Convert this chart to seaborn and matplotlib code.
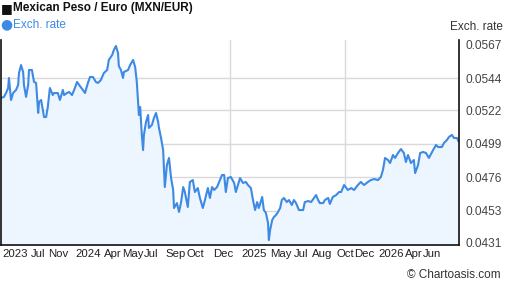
import matplotlib
matplotlib.use("Agg")
import matplotlib.pyplot as plt
import seaborn as sns
import pandas as pd

# days since start of the 3-year window, and MXN/EUR rate
days = [0, 7, 12, 17, 19, 24, 29, 36, 41, 43, 48, 53, 55, 60, 65, 67, 74, 79, 84, 89,
        91, 96, 103, 108, 112, 117, 124, 127, 136, 141, 148, 151, 158, 163, 170, 175, 182, 187, 196, 201,
        208, 213, 220, 227, 232, 239, 246, 254, 258, 266, 270, 275, 280, 282, 287, 292, 294, 304, 309, 316,
        321, 325, 328, 330, 333, 337, 340, 342, 347, 352, 354, 361, 366, 371, 376, 378, 383, 388, 390, 392,
        397, 402, 407, 412, 414, 421, 426, 431, 436, 440, 447, 452, 459, 464, 471, 476, 483, 488, 495, 500,
        505, 510, 517, 522, 529, 534, 538, 543, 550, 558, 562, 567, 572, 579, 586, 591, 598, 603, 608, 613,
        617, 625, 629, 634, 639, 641, 644, 649, 653, 658, 663, 668, 672, 677, 684, 689, 696, 701, 706, 713,
        723, 727, 735, 742, 749, 754, 759, 763, 771, 775, 783, 787, 794, 802, 809, 814, 821, 830, 838, 845,
        854, 861, 869, 878, 885, 893, 902, 909, 914, 919, 926, 931, 938, 943, 950, 957, 964, 969, 974, 981,
        988, 991, 998, 1003, 1010, 1017, 1024, 1034, 1041, 1046, 1055, 1060, 1067, 1072, 1079, 1084, 1091, 1096]
rate = [0.05306, 0.05313, 0.05340, 0.05374, 0.05443, 0.05292, 0.05340, 0.05361, 0.05395, 0.05477,
        0.05532, 0.05484, 0.05395, 0.05313, 0.05395, 0.05498, 0.05498, 0.05416, 0.05409, 0.05203,
        0.05278, 0.05292, 0.05175, 0.05175, 0.05244, 0.05374, 0.05326, 0.05340, 0.05340, 0.05292,
        0.05361, 0.05326, 0.05340, 0.05347, 0.05326, 0.05361, 0.05416, 0.05395, 0.05361, 0.05340,
        0.05409, 0.05450, 0.05450, 0.05416, 0.05409, 0.05429, 0.05477, 0.05498, 0.05567, 0.05601,
        0.05635, 0.05663, 0.05615, 0.05526, 0.05498, 0.05443, 0.05484, 0.05498, 0.05532, 0.05567,
        0.05519, 0.05416, 0.05278, 0.05189, 0.05244, 0.05052, 0.04948, 0.05052, 0.05141, 0.05189,
        0.05100, 0.05120, 0.05168, 0.05203, 0.05141, 0.05100, 0.05031, 0.04948, 0.04825, 0.04694,
        0.04845, 0.04894, 0.04756, 0.04674, 0.04550, 0.04584, 0.04523, 0.04591, 0.04694, 0.04660,
        0.04557, 0.04729, 0.04742, 0.04660, 0.04687, 0.04619, 0.04550, 0.04605, 0.04687, 0.04619,
        0.04694, 0.04674, 0.04694, 0.04729, 0.04777, 0.04777, 0.04660, 0.04756, 0.04763, 0.04722,
        0.04660, 0.04708, 0.04756, 0.04722, 0.04729, 0.04708, 0.04687, 0.04605, 0.04536, 0.04591,
        0.04550, 0.04626, 0.04536, 0.04516, 0.04447, 0.04330, 0.04399, 0.04468, 0.04488, 0.04502,
        0.04523, 0.04550, 0.04605, 0.04619, 0.04591, 0.04605, 0.04571, 0.04605, 0.04584, 0.04536,
        0.04536, 0.04591, 0.04598, 0.04591, 0.04619, 0.04639, 0.04605, 0.04584, 0.04584, 0.04605,
        0.04619, 0.04578, 0.04626, 0.04639, 0.04660, 0.04660, 0.04708, 0.04674, 0.04687, 0.04674,
        0.04708, 0.04729, 0.04708, 0.04729, 0.04742, 0.04749, 0.04742, 0.04763, 0.04811, 0.04894,
        0.04880, 0.04859, 0.04914, 0.04894, 0.04928, 0.04955, 0.04928, 0.04866, 0.04914, 0.04859,
        0.04880, 0.04790, 0.04845, 0.04928, 0.04935, 0.04928, 0.04894, 0.04948, 0.04983, 0.04969,
        0.04969, 0.04997, 0.05017, 0.05038, 0.05052, 0.05031, 0.05031, 0.05003]

# x labels and the day each one is centred on
xlabels = ["2023", "Jul", "Nov", "2024", "Apr", "May", "Jul", "Sep", "Oct", "Dec",
           "2025", "May", "Jul", "Aug", "Oct", "Dec", "2026", "Apr", "Jun"]
xlabel_days = [34, 89, 138, 208, 267, 316, 360, 419, 465, 531,
               605, 670, 719, 768, 823, 869, 933, 988, 1031]
vgrid_days = [548, 823]

yticks = [0.0431, 0.0453, 0.0476, 0.0499, 0.0522, 0.0544, 0.0567]

df = pd.DataFrame({"day": days, "rate": rate})

line_col = "#3d8ae5"
fill_col = "#edf5fe"

sns.set_style("white")
plt.rcParams["font.family"] = ["Liberation Sans", "DejaVu Sans"]

fig = plt.figure(figsize=(5.07, 2.88), dpi=100)
ax = fig.add_axes([1 / 507, 1 - 245 / 288, 458 / 507, 205 / 288])

ymin, ymax = 0.04296, 0.05704

# grid (below the fill)
for v in yticks[:-1]:
    ax.axhline(v, color="#d9d9d9", lw=1, zorder=0)
for d in vgrid_days:
    ax.axvline(d, color="#d9d9d9", lw=1, zorder=0)

ax.fill_between(df["day"], df["rate"], ymin, color=fill_col, zorder=1, lw=0)
sns.lineplot(data=df, x="day", y="rate", ax=ax, color=line_col, lw=1.5, zorder=2)

ax.set_xlim(0, 1096)
ax.set_ylim(ymin, ymax)
ax.set_xlabel("")
ax.set_ylabel("")

ax.yaxis.tick_right()
ax.set_yticks(yticks)
ax.set_yticklabels([f"{v:.4f}" for v in yticks])
ax.tick_params(axis="y", length=0, pad=5, labelsize=8.6, labelcolor="#444444")
ax.set_xticks(xlabel_days)
ax.set_xticklabels(xlabels)
ax.tick_params(axis="x", length=0, pad=3, labelsize=8.2, labelcolor="#222222")

for s in ["left", "bottom", "right"]:
    ax.spines[s].set_visible(True)
    ax.spines[s].set_color("#111111")
    ax.spines[s].set_linewidth(1.2)
ax.spines["top"].set_visible(False)

# header and legend
fig.text(1 / 507, 1 - 8.5 / 288, "\u25A0", fontsize=9, color="#111111", va="center", ha="left",
         family=["DejaVu Sans"])
fig.text(13 / 507, 1 - 8.5 / 288, "Mexican Peso / Euro (MXN/EUR)", fontsize=8.5,
         fontweight="bold", color="#111111", va="center", ha="left")
fig.text(0.5 / 507, 1 - 24.5 / 288, "\u25CF", fontsize=10, color=line_col, va="center", ha="left",
         family=["DejaVu Sans"])
fig.text(13 / 507, 1 - 24.5 / 288, "Exch. rate", fontsize=8.5, color=line_col,
         va="center", ha="left")
fig.text(503 / 507, 1 - 27 / 288, "Exch. rate", fontsize=8.5, color="#333333",
         va="center", ha="right")
fig.text(501 / 507, 1 - 275 / 288, "\u00A9 Chartoasis.com", fontsize=8.5, color="#333333",
         va="center", ha="right")

fig.savefig("out.png", dpi=100)
